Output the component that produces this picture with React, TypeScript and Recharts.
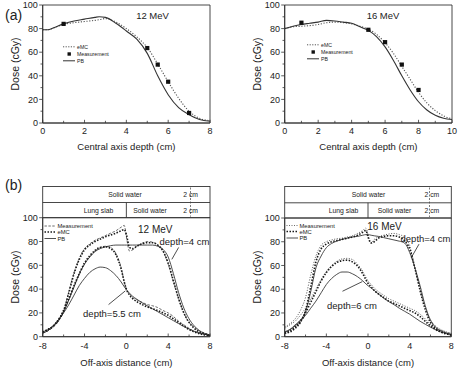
import React from "react";
import { LineChart, Line, XAxis, YAxis, ReferenceArea, ReferenceLine } from "recharts";

const FONT = "'Liberation Sans', Arial, Helvetica, sans-serif";
const INK = "#222222";
const AXIS = "#333333";

// ---------- (a) central-axis depth dose, 12 MeV ----------
const a12Depths = [0, 0.25, 0.5, 1, 1.5, 2, 2.5, 2.7, 3, 3.5, 4, 4.5, 5, 5.5, 6, 6.5, 7, 7.5, 8];
const a12Pb = [79, 79, 80.5, 84, 86.5, 88, 89.5, 90, 89.5, 84.5, 78, 71, 59, 40, 24, 13, 7, 3, 1.5];
const a12Emc = [79, 79, 80.5, 83.5, 85, 86, 87, 87.5, 88.5, 85.5, 80, 73, 64, 50, 35, 21, 10, 4, 2];
const a12MeasDepths = [1, 5, 5.5, 6, 7];
const a12Meas = [84, 63.5, 49.5, 35, 8.5];

// ---------- (a) central-axis depth dose, 16 MeV ----------
const a16Depths = [0, 0.5, 1, 1.5, 2, 2.5, 3, 3.5, 4, 4.5, 5, 5.5, 6, 6.5, 7, 7.5, 8, 8.5, 9, 9.5, 10];
const a16Pb = [80, 82, 83.5, 84.5, 85.5, 87, 86.5, 85.5, 84.5, 81.5, 78.5, 73, 64.5, 53, 40, 28, 18, 11, 6.5, 4, 3];
const a16Emc = [80, 81.5, 82, 82.5, 83.5, 85, 85.5, 85, 84, 82, 79.5, 75, 68, 59, 48, 37, 26, 17, 10.5, 6, 3.5];
const a16MeasDepths = [1, 5, 6, 7, 8];
const a16Meas = [85, 79, 68.5, 49.5, 28];

// ---------- (b) off-axis profiles ----------
const offAxis = [
  -8, -7.5, -7, -6.5, -6, -5.5, -5, -4.5, -4, -3.5, -3, -2.5, -2, -1.5, -1, -0.5,
  -0.2, 0, 0.3, 0.6,
  1, 1.5, 2, 2.5, 3, 3.5, 4, 4.5, 5, 5.5, 6, 6.5, 7, 7.5, 8,
];

// 12 MeV, depth = 4 cm
const b12Meas4 = [3, 5, 8, 13, 21, 38, 54, 66, 74, 78, 81, 83, 85, 87, 89, 92, 93.5, 84, 72, 73, 76, 78.5, 80, 79.5, 77, 72, 61, 46, 32, 20, 12, 8, 5, 3, 1.5];
const b12Emc4 = [4, 6, 9, 14, 22, 37, 53, 65, 73, 77, 80, 82, 84, 85.5, 87, 89, 90, 86, 75, 74, 76, 78, 79, 79, 77, 72, 62, 47, 32, 20, 12, 7, 4, 2.5, 1];
const b12Pb4 = [4, 6, 9, 14, 21, 31, 42, 53, 61, 67, 71.5, 74, 75.5, 76.5, 77, 77, 77, 77, 77, 77, 77, 77, 77, 77, 76, 73.5, 67, 53, 37, 24, 15, 9, 5, 2.5, 1];
// 12 MeV, depth = 5.5 cm
const b12Meas55 = [3, 5, 8, 13, 21, 31, 42, 52, 61, 67, 72, 75, 76, 75, 70, 58, 46, 40, 36, 33, 31, 29, 27, 26, 24.5, 22, 20, 17, 13, 10, 7, 4.5, 3, 2, 1];
const b12Emc55 = [4, 6, 9, 14, 22, 32, 43, 53, 62, 68, 72.5, 75, 75.5, 74, 69, 57, 46, 40, 35, 32, 29.5, 27, 25, 23.5, 22, 20, 18, 15, 12, 9, 6, 4, 2.5, 1.5, 1];
const b12Pb55 = [3, 5, 9, 14, 20, 27, 35, 43, 49, 54, 57, 58.5, 58, 55.5, 51.5, 46, 42, 39.5, 36.5, 34, 31.5, 28.5, 26, 23.5, 21, 18.5, 16, 13.5, 11, 8.5, 6.5, 4.5, 3, 2, 1];

// 16 MeV, depth = 4 cm
const b16Meas4 = [8, 11, 15, 22, 33, 52, 68, 77, 80, 81.5, 82.5, 83, 84, 85, 87, 89.5, 91.5, 86, 79, 82, 84, 85.5, 86.5, 87, 86, 84, 77, 58, 40, 24, 14, 9, 6, 4, 2.5];
const b16Emc4 = [3, 4, 7, 12, 22, 42, 63, 74, 78, 80, 81, 82, 83, 84, 85.5, 88, 89.5, 84, 79, 80, 83, 84.5, 85, 85, 84, 81, 74, 58, 39, 23, 12, 7, 4, 2.5, 1.5];
const b16Pb4 = [4, 6, 10, 14, 21, 38, 58, 68, 75, 78.5, 80.5, 82, 83, 84, 84.5, 85.5, 86, 86, 85.5, 85, 84.5, 83.5, 82.5, 81.5, 80.5, 79, 71, 58, 43, 26, 14, 8, 5, 3, 1.5];
// 16 MeV, depth = 6 cm
const b16Meas6 = [7, 10, 13, 18, 24, 32, 40, 48, 55, 60, 63.5, 65.5, 66, 65, 61, 55, 50, 47, 44, 41, 38, 35, 32, 30, 28, 26, 24, 22, 19, 15, 10, 7, 5.5, 4, 3];
const b16Emc6 = [3, 5, 8, 13, 20, 29, 38, 47, 54, 59, 62.5, 64, 64.5, 63, 59.5, 53, 48, 45, 42, 39, 36, 33, 30, 28, 26, 24, 22, 20, 17, 13, 9, 6, 4, 2.5, 1.5];
const b16Pb6 = [4, 6, 9, 13, 18, 24, 30, 37, 44, 49, 52.5, 54.5, 54.5, 53, 50.5, 47, 44.5, 43, 41, 39, 36, 32.5, 29.5, 27, 24, 21.5, 19, 16, 13, 10.5, 8, 6, 4, 3, 2];

// axis ticks
const doseTicks = [0, 10, 20, 30, 40, 50, 60, 70, 80, 90, 100];
const depth12Ticks = [0, 1, 2, 3, 4, 5, 6, 7, 8];
const depth16Ticks = [0, 1, 2, 3, 4, 5, 6, 7, 8, 9, 10];
const offAxisTicks = [-8, -6, -4, -2, 0, 2, 4, 6, 8];

// annotation pointer segments (data coordinates)
const b12Pointer4 = [{ x: 5.0, y: 75 }, { x: 4.35, y: 65 }];
const b12Pointer55 = [{ x: -1.7, y: 27 }, { x: -0.1, y: 38.5 }];
const b16Pointer4 = [{ x: 4.9, y: 78 }, { x: 4.15, y: 66.5 }];
const b16Pointer6 = [{ x: -2.45, y: 38.3 }, { x: -0.55, y: 46.4 }];

type Row = Record<string, number | null>;

function buildRows(
  xs: number[],
  series: Record<string, number[]>,
  pointKey?: string,
  px?: number[],
  py?: number[]
): Row[] {
  return xs.map((x, i) => {
    const row: Row = { x };
    Object.keys(series).forEach((k) => {
      row[k] = series[k][i];
    });
    if (pointKey && px && py) {
      const j = px.indexOf(x);
      row[pointKey] = j >= 0 ? py[j] : null;
    }
    return row;
  });
}

const a12Rows = buildRows(a12Depths, { pb: a12Pb, emc: a12Emc }, "meas", a12MeasDepths, a12Meas);
const a16Rows = buildRows(a16Depths, { pb: a16Pb, emc: a16Emc }, "meas", a16MeasDepths, a16Meas);
const b12Rows = buildRows(offAxis, {
  meas4: b12Meas4, emc4: b12Emc4, pb4: b12Pb4,
  measD: b12Meas55, emcD: b12Emc55, pbD: b12Pb55,
});
const b16Rows = buildRows(offAxis, {
  meas4: b16Meas4, emc4: b16Emc4, pb4: b16Pb4,
  measD: b16Meas6, emcD: b16Emc6, pbD: b16Pb6,
});

const YTick = (p: any) => {
  const v = p.payload.value;
  const major = Math.abs(v % 20) < 1e-9;
  return (
    <g>
      <line x1={p.x} x2={p.x - (major ? 3.5 : 2.2)} y1={p.y} y2={p.y} stroke={AXIS} strokeWidth={0.8} />
      {major && (
        <text x={p.x - 4.8} y={p.y + 3.2} textAnchor="end" fontSize={9} fontFamily={FONT} fill={INK}>
          {v}
        </text>
      )}
    </g>
  );
};

function makeXTick(majorEvery: number, labelDy: number) {
  return (p: any) => {
    const v = p.payload.value;
    const major = Math.abs(v % majorEvery) < 1e-9;
    return (
      <g>
        <line x1={p.x} x2={p.x} y1={p.y} y2={p.y - (major ? 3.2 : 2.2)} stroke={AXIS} strokeWidth={0.8} />
        {major && (
          <text x={p.x} y={p.y + labelDy} textAnchor="middle" fontSize={9} fontFamily={FONT} fill={INK}>
            {v}
          </text>
        )}
      </g>
    );
  };
}

const XTickA = makeXTick(2, 11);
const XTickB = makeXTick(4, 12.5);

const SquareDot = (p: any) => {
  if (p.cy == null || p.value == null || Number.isNaN(p.cy)) return <g />;
  return <rect x={p.cx - 2.1} y={p.cy - 2.1} width={4.2} height={4.2} fill="#111" />;
};

interface SeriesDef {
  key: string;
  stroke: string;
  width: number;
  dash?: string;
  squares?: boolean;
}

interface PanelDef {
  left: number;
  top: number;
  width: number;
  height: number;
  marginTop: number;
  marginRight: number;
  yWidth: number;
  xHeight: number;
  xDomain: [number, number];
  xTicks: number[];
  xTick: (p: any) => React.ReactElement;
  rows: Row[];
  series: SeriesDef[];
  pointers?: { x: number; y: number }[][];
}

function Panel(d: PanelDef) {
  return (
    <div style={{ position: "absolute", left: d.left, top: d.top, width: d.width, height: d.height }}>
      <LineChart
        width={d.width}
        height={d.height}
        data={d.rows}
        margin={{ top: d.marginTop, right: d.marginRight, left: 0, bottom: 0 }}
      >
        <XAxis
          dataKey="x"
          type="number"
          domain={d.xDomain}
          ticks={d.xTicks}
          interval={0}
          tick={d.xTick}
          tickLine={false}
          tickSize={0}
          tickMargin={0}
          height={d.xHeight}
          axisLine={{ stroke: AXIS, strokeWidth: 0.9 }}
          allowDataOverflow
        />
        <YAxis
          type="number"
          domain={[0, 100]}
          ticks={doseTicks}
          interval={0}
          tick={YTick}
          tickLine={false}
          tickSize={0}
          tickMargin={0}
          width={d.yWidth}
          axisLine={{ stroke: AXIS, strokeWidth: 0.9 }}
          allowDataOverflow
        />
        <ReferenceArea
          x1={d.xDomain[0]}
          x2={d.xDomain[1]}
          y1={0}
          y2={100}
          fill="none"
          stroke={AXIS}
          strokeWidth={0.9}
          ifOverflow="visible"
        />
        {d.series.map((s) => (
          <Line
            key={s.key}
            dataKey={s.key}
            type="monotone"
            stroke={s.squares ? "none" : s.stroke}
            strokeWidth={s.width}
            strokeDasharray={s.dash}
            dot={s.squares ? SquareDot : false}
            activeDot={false}
            connectNulls={false}
            isAnimationActive={false}
          />
        ))}
        {(d.pointers || []).map((seg, i) => (
          <ReferenceLine key={`p${i}`} segment={seg} stroke={INK} strokeWidth={0.8} ifOverflow="visible" />
        ))}
      </LineChart>
    </div>
  );
}

const aSeries: SeriesDef[] = [
  { key: "emc", stroke: "#555", width: 1.1, dash: "1.2 1.6" },
  { key: "pb", stroke: "#333", width: 1.1 },
  { key: "meas", stroke: "#111", width: 1, squares: true },
];

const b12Series: SeriesDef[] = [
  { key: "pb4", stroke: "#3a3a3a", width: 0.9 },
  { key: "pbD", stroke: "#3a3a3a", width: 0.9 },
  { key: "meas4", stroke: "#444", width: 0.8, dash: "2.6 1.6" },
  { key: "measD", stroke: "#444", width: 0.8, dash: "2.6 1.6" },
  { key: "emc4", stroke: "#1a1a1a", width: 1.6, dash: "1.5 1.5" },
  { key: "emcD", stroke: "#1a1a1a", width: 1.6, dash: "1.5 1.5" },
];

const b16Series: SeriesDef[] = [
  { key: "pb4", stroke: "#3a3a3a", width: 0.9 },
  { key: "pbD", stroke: "#3a3a3a", width: 0.9 },
  { key: "meas4", stroke: "#444", width: 0.9, dash: "1 1.6" },
  { key: "measD", stroke: "#444", width: 0.9, dash: "1 1.6" },
  { key: "emc4", stroke: "#1a1a1a", width: 1.6, dash: "1.5 1.5" },
  { key: "emcD", stroke: "#1a1a1a", width: 1.6, dash: "1.5 1.5" },
];

function LegendA({ x0, y0 }: { x0: number; y0: number }) {
  const fs = 5.2;
  const rows = [y0, y0 + 7.2, y0 + 14];
  return (
    <g fontFamily={FONT} fontSize={fs} fill={INK}>
      <line x1={x0} x2={x0 + 12} y1={rows[0]} y2={rows[0]} stroke="#555" strokeWidth={1} strokeDasharray="1.2 1.4" />
      <text x={x0 + 14} y={rows[0] + 1.8}>eMC</text>
      <rect x={x0 + 4.5} y={rows[1] - 1.7} width={3.4} height={3.4} fill="#111" />
      <text x={x0 + 14} y={rows[1] + 1.8}>Measurement</text>
      <line x1={x0} x2={x0 + 12} y1={rows[2]} y2={rows[2]} stroke="#333" strokeWidth={1} />
      <text x={x0 + 14} y={rows[2] + 1.8}>PB</text>
    </g>
  );
}

function LegendB({ x0, y0, measDash }: { x0: number; y0: number; measDash: string }) {
  const fs = 5.8;
  const rows = [y0, y0 + 6, y0 + 12.5];
  return (
    <g fontFamily={FONT} fontSize={fs} fill={INK}>
      <line x1={x0} x2={x0 + 11.5} y1={rows[0]} y2={rows[0]} stroke="#444" strokeWidth={0.8} strokeDasharray={measDash} />
      <text x={x0 + 13} y={rows[0] + 2}>Measurement</text>
      <line x1={x0} x2={x0 + 11.5} y1={rows[1]} y2={rows[1]} stroke="#1a1a1a" strokeWidth={1.6} strokeDasharray="1.5 1.5" />
      <text x={x0 + 13} y={rows[1] + 2}>eMC</text>
      <line x1={x0} x2={x0 + 11.5} y1={rows[2]} y2={rows[2]} stroke="#3a3a3a" strokeWidth={0.9} />
      <text x={x0 + 13} y={rows[2] + 2}>PB</text>
    </g>
  );
}

function Slabs({
  x1, x2, xMid, yTop, yMid, yBot, waterTopX, lungX, waterX, cmX, dashX,
}: {
  x1: number; x2: number; xMid: number; yTop: number; yMid: number; yBot: number;
  waterTopX: number; lungX: number; waterX: number; cmX: number; dashX: number;
}) {
  const fs = 6.8;
  return (
    <g fontFamily={FONT} fontSize={fs} fill={INK}>
      <rect x={x1} y={yTop} width={x2 - x1} height={yBot - yTop} fill="none" stroke={AXIS} strokeWidth={0.9} />
      <line x1={x1} x2={x2} y1={yMid} y2={yMid} stroke={AXIS} strokeWidth={0.9} />
      <line x1={xMid} x2={xMid} y1={yMid} y2={yBot} stroke={AXIS} strokeWidth={0.9} />
      <line x1={dashX} x2={dashX} y1={yTop + 1} y2={yBot - 1} stroke="#444" strokeWidth={0.7} strokeDasharray="2 1.5" />
      <text x={waterTopX} y={(yTop + yMid) / 2 + 2.4} textAnchor="middle">Solid water</text>
      <text x={cmX} y={(yTop + yMid) / 2 + 2.4}>2 cm</text>
      <text x={lungX} y={(yMid + yBot) / 2 + 2.4} textAnchor="middle">Lung slab</text>
      <text x={waterX} y={(yMid + yBot) / 2 + 2.4} textAnchor="middle">Solid water</text>
      <text x={cmX} y={(yMid + yBot) / 2 + 2.4}>2 cm</text>
    </g>
  );
}

function Overlay() {
  const title = 9.5;
  return (
    <svg
      width={474}
      height={373}
      style={{ position: "absolute", left: 0, top: 0, pointerEvents: "none" }}
      fontFamily={FONT}
    >
      <text x={5} y={20} fontSize={14} fill={INK}>(a)</text>
      <text x={5} y={190} fontSize={14} fill={INK}>(b)</text>

      {/* panel (a) texts */}
      <text x={152.5} y={18.5} fontSize={9.5} textAnchor="middle" fill={INK}>12 MeV</text>
      <text x={383} y={18.5} fontSize={9.5} textAnchor="middle" fill={INK}>16 MeV</text>
      <LegendA x0={63} y0={46.8} />
      <LegendA x0={307} y0={44.8} />
      <text x={126.4} y={149.5} fontSize={title} textAnchor="middle" fill={INK}>Central axis depth (cm)</text>
      <text x={368.4} y={149.5} fontSize={title} textAnchor="middle" fill={INK}>Central axis depth (cm)</text>
      <text transform="translate(19,64) rotate(-90)" fontSize={10.5} textAnchor="middle" fill={INK}>Dose (cGy)</text>
      <text transform="translate(261,64) rotate(-90)" fontSize={10.5} textAnchor="middle" fill={INK}>Dose (cGy)</text>

      {/* panel (b) slab diagrams */}
      <Slabs x1={42.7} x2={210} xMid={126.35} yTop={186.5} yMid={202.5} yBot={217.7}
        waterTopX={125} lungX={98.5} waterX={150} cmX={183.3} dashX={190.5} />
      <Slabs x1={284.7} x2={451.3} xMid={368} yTop={186.5} yMid={202.8} yBot={218}
        waterTopX={368.5} lungX={343.5} waterX={394.5} cmX={424.5} dashX={429.5} />

      {/* panel (b) texts */}
      <text x={155.3} y={232.5} fontSize={10} textAnchor="middle" fill={INK}>12 MeV</text>
      <text x={384.5} y={230} fontSize={10} textAnchor="middle" fill={INK}>16 MeV</text>
      <text x={184.5} y={245} fontSize={title} textAnchor="middle" fill={INK}>depth=4 cm</text>
      <text x={112} y={316.5} fontSize={title} textAnchor="middle" fill={INK}>depth=5.5 cm</text>
      <text x={425.5} y={241.5} fontSize={title} textAnchor="middle" fill={INK}>depth=4 cm</text>
      <text x={352} y={308.5} fontSize={title} textAnchor="middle" fill={INK}>depth=6 cm</text>
      <LegendB x0={44.5} y0={226} measDash="2.4 1.5" />
      <LegendB x0={286.5} y0={225.5} measDash="1 1.5" />
      <text x={126.4} y={365.5} fontSize={title} textAnchor="middle" fill={INK}>Off-axis distance (cm)</text>
      <text x={368} y={366} fontSize={title} textAnchor="middle" fill={INK}>Off-axis distance (cm)</text>
      <text transform="translate(19,277) rotate(-90)" fontSize={10.5} textAnchor="middle" fill={INK}>Dose (cGy)</text>
      <text transform="translate(261,277) rotate(-90)" fontSize={10.5} textAnchor="middle" fill={INK}>Dose (cGy)</text>
    </svg>
  );
}

export default function App() {
  return (
    <div
      style={{
        position: "absolute",
        left: 0,
        top: 0,
        width: 474,
        height: 373,
        background: "#ffffff",
        overflow: "hidden",
        fontFamily: FONT,
      }}
    >
      <Panel
        left={0} top={0} width={237} height={160}
        marginTop={5} marginRight={27} yWidth={42.7} xHeight={37}
        xDomain={[0, 8]} xTicks={depth12Ticks} xTick={XTickA}
        rows={a12Rows} series={aSeries}
      />
      <Panel
        left={237} top={0} width={237} height={160}
        marginTop={5} marginRight={22} yWidth={47.7} xHeight={37}
        xDomain={[0, 10]} xTicks={depth16Ticks} xTick={XTickA}
        rows={a16Rows} series={aSeries}
      />
      <Panel
        left={0} top={200} width={237} height={173}
        marginTop={17.7} marginRight={27} yWidth={42.7} xHeight={36.3}
        xDomain={[-8, 8]} xTicks={offAxisTicks} xTick={XTickB}
        rows={b12Rows} series={b12Series} pointers={[b12Pointer4, b12Pointer55]}
      />
      <Panel
        left={237} top={200} width={237} height={173}
        marginTop={18} marginRight={22.7} yWidth={47.7} xHeight={36.3}
        xDomain={[-8, 8]} xTicks={offAxisTicks} xTick={XTickB}
        rows={b16Rows} series={b16Series} pointers={[b16Pointer4, b16Pointer6]}
      />
      <Overlay />
    </div>
  );
}
